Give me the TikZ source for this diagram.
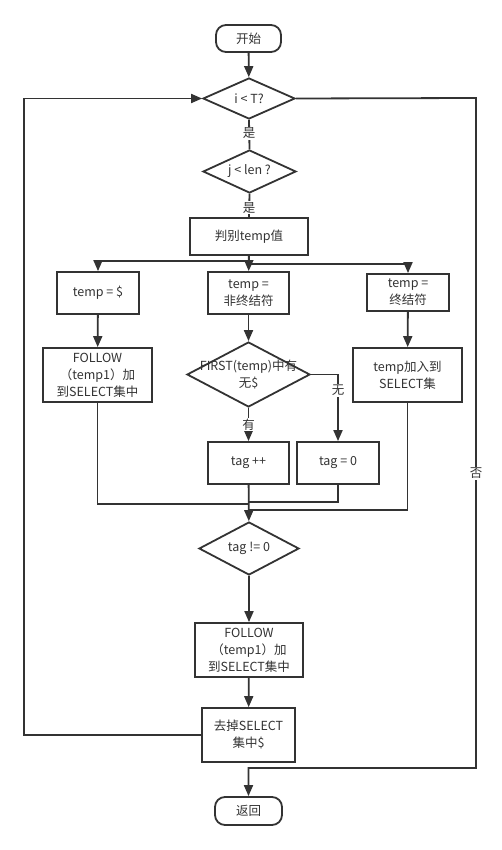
\documentclass[tikz,border=0pt]{standalone}
\usepackage{fontspec}
\setmainfont{Noto Sans CJK SC}
\usetikzlibrary{arrows.meta,shapes.geometric}
\definecolor{ln}{HTML}{333333}
\begin{document}
\begin{tikzpicture}[x=1pt,y=-1pt,
  font=\fontsize{12.5}{17}\selectfont,
  every node/.style={text=ln},
  box/.style={draw=ln, line width=1.8pt, rectangle, inner sep=0pt, align=center},
  term/.style={box, rounded corners=10pt},
  dia/.style={draw=ln, line width=1.8pt, diamond, inner sep=0pt},
  txt/.style={inner sep=0pt, align=center},
  lbl/.style={fill=white, inner sep=1pt},
  conn/.style={draw=ln, line width=1.8pt},
  arr/.style={conn, -{Triangle[length=11pt,width=9pt]}}]
\useasboundingbox (0,0) rectangle (501,850);
% nodes
\node[term, minimum width=65pt, minimum height=27pt] (start) at (248.5,38.5) {开始};
\node[dia, minimum width=92pt, minimum height=41pt] (d1) at (249,98.5) {};
\node[txt] at (d1) {i < T?};
\node[dia, minimum width=93pt, minimum height=43pt] (d2) at (249.5,171.5) {};
\node[txt] at (d2) {j < len ?};
\node[box, minimum width=118pt, minimum height=37pt] (b1) at (249,236.5) {判别temp值};
\node[box, minimum width=82pt, minimum height=42pt] (b2) at (98,293) {temp = \$};
\node[box, minimum width=81pt, minimum height=42pt] (b3) at (248.5,293) {temp =\\非终结符};
\node[box, minimum width=82pt, minimum height=37pt] (b4) at (408,292.5) {temp =\\终结符};
\node[box, minimum width=109pt, minimum height=54pt] (b5) at (97.5,375) {FOLLOW\\（temp1）加\\到SELECT集中};
\node[dia, minimum width=123pt, minimum height=65pt] (d3) at (248.5,374.5) {};
\node[txt] at (d3) {FIRST(temp)中有\\无\$};
\node[box, minimum width=109pt, minimum height=54pt] (b6) at (407.5,375) {temp加入到\\SELECT集};
\node[box, minimum width=81pt, minimum height=42pt] (b7) at (248.5,463) {tag ++};
\node[box, minimum width=82pt, minimum height=42pt] (b8) at (338,463) {tag = 0};
\node[dia, minimum width=100pt, minimum height=53pt] (d4) at (249,548.5) {};
\node[txt] at (d4) {tag != 0};
\node[box, minimum width=108pt, minimum height=54pt] (b9) at (249,650) {FOLLOW\\（temp1）加\\到SELECT集中};
\node[box, minimum width=93pt, minimum height=54pt] (b10) at (248.5,735) {去掉SELECT\\集中\$};
\node[term, minimum width=67pt, minimum height=28pt] (end) at (248.5,811) {返回};
% helper coordinates
\coordinate (sp1) at (249,261);
\coordinate (sp2) at (249,264);
\coordinate (m1) at (249,504);
\coordinate (m2) at (249,502);
\coordinate (m3) at (249,510);
\coordinate (lp) at (24,735);
\coordinate (rp) at (476,98);
\coordinate (rb) at (476,768);
% connectors
\draw[arr] (start) -- (d1);
\draw[conn] (d1.south) -- node[lbl, pos=0.45] {是} (d2.north);
\draw[conn] (d2.south) -- node[lbl, pos=0.6] {是} (b1.north);
\draw[arr] (b1) -- (b3);
\draw[arr] (b1.south) -- (sp1) -| (b2.north);
\draw[arr] (b1.south) -- (sp2) -| (b4.north);
\draw[arr] (b2) -- (b5);
\draw[arr] (b3) -- (d3);
\draw[arr] (b4) -- (b6);
\draw[arr] (d3.south) -- node[lbl, pos=0.5] {有} (b7.north);
\draw[arr] (d3.east) -| node[lbl, pos=0.62] {无} (b8.north);
\draw[conn] (b5.south) |- (m1);
\draw[conn] (b8.south) |- (m2);
\draw[conn] (b6.south) |- (m3);
\draw[arr] (b7) -- (d4);
\draw[arr] (d4) -- (b9);
\draw[arr] (b9) -- (b10);
\draw[arr] (b10.west) -- (lp) |- (d1.west);
\draw[arr] (d1.east) -- (rp) -- node[lbl, pos=0.56] {否} (rb) -| (end.north);
\end{tikzpicture}
\end{document}
